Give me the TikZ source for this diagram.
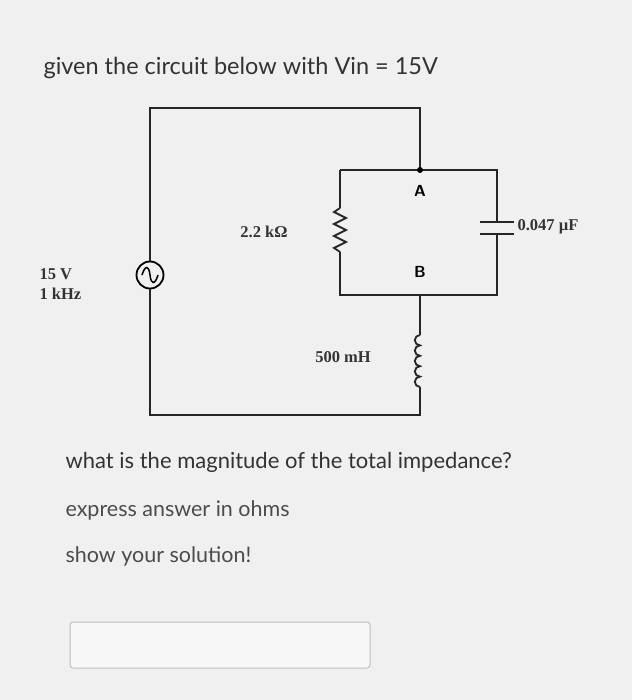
\documentclass[tikz,border=0pt]{standalone}
\usepackage{fontspec}
\setmainfont{Lato}
\newfontfamily\serifit{Liberation Serif}
\usetikzlibrary{calc}
\begin{document}
\begin{tikzpicture}[x=1pt,y=-1pt,
  wire/.style={line width=2.3pt,black!85},
  lbl/.style={font=\serifit\bfseries\fontsize{16.5}{16.5}\selectfont,text=black!80},
  q/.style={font=\fontsize{22}{22}\selectfont,text=black!80,anchor=west},
  small/.style={font=\fontsize{21.5}{21.5}\selectfont,text=black!70,anchor=west}]
\fill[black!6] (0,0) rectangle (632,700);
\useasboundingbox (0,0) rectangle (632,700);
\node[q,font=\fontsize{23.5}{23.5}\selectfont] (title) at (40,68) {given the circuit below with Vin = 15V};
% nodes
\coordinate (tl) at (150,108);
\coordinate (tr) at (420,108);
\coordinate (A) at (420,170);
\coordinate (il) at (340,170);
\coordinate (ir) at (497,170);
\coordinate (bl) at (340,295);
\coordinate (br) at (497,295);
\coordinate (B) at (420,295);
\coordinate (bot) at (420,415);
\coordinate (botl) at (150,415);
\coordinate (lt) at (420,335);
\coordinate (lb2) at (420,387);
\node[circle,draw,line width=1.8pt,minimum size=27pt,inner sep=0pt] (src) at (150,275) {};
\draw[line width=1.5pt] ($(src)+(-8,0)$) .. controls ($(src)+(-5,-10)$) and ($(src)+(-1,-10)$) .. ($(src)+(0,0)$) .. controls ($(src)+(1,10)$) and ($(src)+(5,10)$) .. ($(src)+(8,0)$);
% outer loop
\draw[wire] (src.north) -- (tl) -- (tr) -- (A);
\draw[wire] (src.south) -- (botl) -- (bot) -- (lb2);
% inner rectangle
\draw[wire] (il) -- (ir) -- (497,222);
\draw[wire] (497,234) -- (br) -- (bl) -- (340,252);
\draw[wire] (il) -- (340,208);
% resistor
\draw[wire,line width=1.8pt] (340,208) -- (334,212) -- (346,218) -- (334,224) -- (346,230) -- (334,236) -- (346,242) -- (334,248) -- (340,252);
% capacitor
\draw[wire] (480,222) -- (514,222);
\draw[wire] (480,234) -- (514,234);
% inductor
\draw[wire] (B) -- (lt);
\draw[wire,line width=1.8pt] (lt) \foreach \i in {0,...,4} { arc[start angle=-90,end angle=-270,radius=5.2] };
\fill (A) circle (3pt);
% labels
\node[font=\sffamily\bfseries\fontsize{16}{16}\selectfont] (la) at (420,191) {A};
\node[font=\sffamily\bfseries\fontsize{16}{16}\selectfont] (lb) at (420,272) {B};
\node[lbl] (lr) at (264,232) {2.2 kΩ};
\node[lbl,anchor=west] (lc) at (514,227) {0.047 µF};
\node[lbl] (ll) at (343,357) {500 mH};
\node[lbl,anchor=west,align=left] (ls) at (36,284) {15 V\\[4pt]1 kHz};
% text
\node[q] (t1) at (62,462) {what is the magnitude of the total impedance?};
\node[small] (t2) at (62,510) {express answer in ohms};
\node[small] (t3) at (62,556) {show your solution!};
\draw[black!25,line width=1pt,fill=black!3,rounded corners=3pt] (70,622) rectangle (370,668);
\end{tikzpicture}
\end{document}
